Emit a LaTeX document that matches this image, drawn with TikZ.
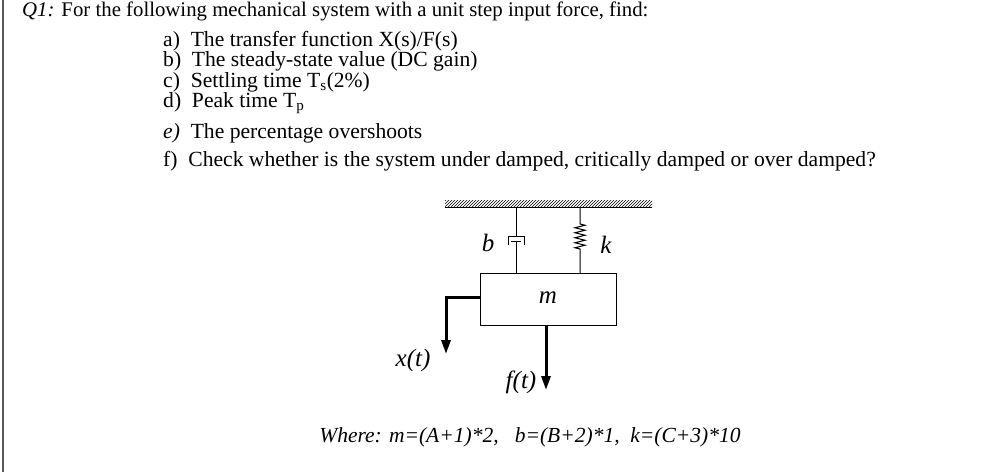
\documentclass[tikz,border=0pt]{standalone}
\usepackage{fontspec}
\setmainfont{Liberation Serif}
\usetikzlibrary{patterns,arrows.meta,decorations.pathmorphing}
\begin{document}
\begin{tikzpicture}[x=1pt,y=-1pt,
  txt/.style={anchor=base west,inner sep=0pt,font=\fontsize{21.6}{24}\selectfont},
  lab/.style={inner sep=0pt,font=\fontsize{25}{28}\selectfont\itshape},
  big/.style={line width=3pt,-{Triangle[length=14pt,width=9pt]}}]
\useasboundingbox (0,0) rectangle (1001,472);
\fill[white] (0,0) rectangle (1001,472);
\draw[line width=1.2pt,gray!70!black] (3,0) -- (3,472);
\node[txt,font=\fontsize{20.8}{24}\selectfont] (q) at (22,16) {\textit{Q1:} For the following mechanical system with a unit step input force, find:};
\node[txt] (a) at (163,46) {a)\enspace The transfer function X(s)/F(s)};
\node[txt] (b) at (163,66.5) {b)\enspace The steady-state value (DC gain)};
\node[txt] (c) at (163,87) {c)\enspace Settling time T\textsubscript{s}(2\%)};
\node[txt] (d) at (163,107.5) {d)\enspace Peak time T\textsubscript{p}};
\node[txt] (e) at (163,138) {\textit{e)}\enspace The percentage overshoots};
\node[txt] (f) at (163,166) {f)\enspace Check whether is the system under damped, critically damped or over damped?};
% ceiling
\fill[pattern=north east lines] (445,200) rectangle (652,207);
\draw[line width=1pt] (445,207) -- (652,207);
% mass
\node[draw,line width=1pt,minimum width=136pt,minimum height=52pt,inner sep=0pt] (m) at (548,299) {};
\node[lab] (ml) at (548,298) {m};
% damper
\draw[line width=1pt] (516,207) -- (516,236);
\draw[line width=1pt] (508,245) -- (508,236) -- (524,236) -- (524,245);
\draw[line width=1pt] (511,241) -- (521,241);
\draw[line width=1pt] (516,241) -- (516,273);
% spring
\draw[line width=1pt] (580,207) -- (580,224) decorate[decoration={zigzag,segment length=5pt,amplitude=5pt}]{-- (580,250)} -- (580,273);
\node[lab] (bl) at (488,243) {b};
\node[lab] (kl) at (606,245) {k};
% arrows
\coordinate (xc) at (446,297);
\coordinate (xe) at (446,354);
\draw[big] (m.west |- xc) -- (xc) -- (xe);
\coordinate (fe) at (546,390);
\draw[big] (546,325) -- (fe);
\node[lab] (xl) at (413,360) {x(t)};
\node[lab] (fl) at (521,382) {f(t)};
\node[inner sep=0pt,font=\fontsize{21.5}{24}\selectfont\itshape] (w) at (530,437) {Where: m=(A+1)*2,\enspace\ b=(B+2)*1,\enspace k=(C+3)*10};
\end{tikzpicture}
\end{document}
